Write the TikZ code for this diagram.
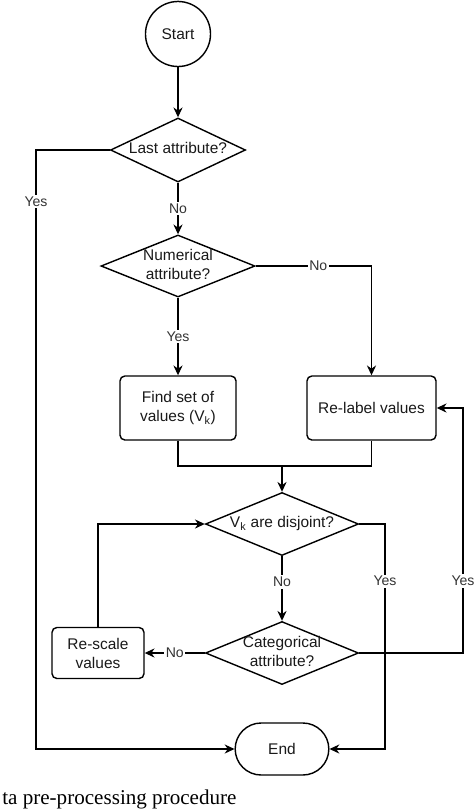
\documentclass[tikz,border=0pt]{standalone}
\usepackage{fontspec}
\setmainfont{Liberation Sans}
\newfontfamily\capfont{Liberation Serif}
\usetikzlibrary{arrows.meta,shapes.geometric,shapes.misc}

% text of a decision, kept out of the shape's size
\newcommand{\dtext}[1]{\makebox[0pt]{\raisebox{\dimexpr-.5\height+.5\depth\relax}[0pt][0pt]{\begin{tabular}{@{}c@{}}#1\end{tabular}}}}

\begin{document}
\begin{tikzpicture}[x=0.025cm,y=-0.025cm,
  font=\fontsize{11}{13.5}\selectfont,
  terminal/.style={draw, line width=1pt, circle, inner sep=0pt, minimum size=1.625cm, text=black!90},
  stopbox/.style={draw, line width=1pt, rounded rectangle, minimum width=2.575cm, minimum height=1.3cm, text=black!90},
  decision/.style={draw, line width=1pt, diamond, inner sep=0pt, text=black!90},
  process/.style={draw, line width=1pt, rounded corners=3.5pt, align=center, text=black!90},
  lbl/.style={fill=white, inner sep=1.2pt, text=black!80, font=\fontsize{10}{12}\selectfont},
  wire/.style={line width=0.95pt},
  arr/.style={line width=0.95pt, -{Stealth[length=7pt,width=6.5pt]}}]
  \useasboundingbox (0,0) rectangle (474,810);

  \node[terminal] (start) at (178,34) {Start};
  \node[decision, minimum width=3.375cm, minimum height=1.6cm] (last) at (178,150) {\dtext{Last attribute?}};
  \node[decision, minimum width=3.85cm, minimum height=1.55cm] (num) at (178,266) {\dtext{Numerical\\attribute?}};
  \node[process, minimum width=2.9cm, minimum height=1.6cm] (find) at (178,408) {Find set of\\values (V\textsubscript{k})};
  \node[process, minimum width=3.225cm, minimum height=1.6cm] (relabel) at (371.5,408) {Re-label values};
  \node[decision, minimum width=3.825cm, minimum height=1.575cm] (disj) at (282,524) {\dtext{V\textsubscript{k} are disjoint?}};
  \node[decision, minimum width=3.825cm, minimum height=1.575cm] (cat) at (282,653) {\dtext{Categorical\\attribute?}};
  \node[process, minimum width=2.3cm, minimum height=1.275cm] (rescale) at (98,653) {Re-scale\\values};
  \node[stopbox] (end) at (282,749) {End};
  \node[anchor=base west, inner sep=0pt, font=\capfont\fontsize{15}{18}\selectfont] (caption) at (2,804) {ta pre-processing procedure};

  \coordinate (entry) at (178,-15);
  \coordinate (lrail) at (36,749);
  \coordinate (join) at (282,466);
  \coordinate (rrail) at (385,749);
  \coordinate (frail) at (463,408);

  \draw[arr] (entry) -- (start);
  \draw[arr] (start) -- (last);
  \draw[arr] (last.west) -| node[lbl, pos=0.543] (yesA) {Yes} (lrail) -- (end.west);
  \draw[arr] (last) -- node[lbl] (noA) {No} (num);
  \draw[arr] (num.east) -| node[lbl, pos=0.27] (noB) {No} (relabel.north);
  \draw[arr] (num) -- node[lbl] (yesB) {Yes} (find);
  \draw[wire] (find.south) |- (join) -| (relabel.south);
  \draw[arr] (join) -- (disj);
  \draw[arr] (rescale.north) |- (disj.west);
  \draw[arr] (disj.east) -| node[lbl, pos=0.627] (yesC) {Yes} (rrail) -- (end.east);
  \draw[arr] (disj) -- node[lbl, pos=0.4] (noC) {No} (cat);
  \draw[arr] (cat.west) -- node[lbl] (noD) {No} (rescale.east);
  \draw[arr] (cat.east) -| node[lbl, pos=0.647] (yesD) {Yes} (frail) -- (relabel.east);
\end{tikzpicture}
\end{document}
